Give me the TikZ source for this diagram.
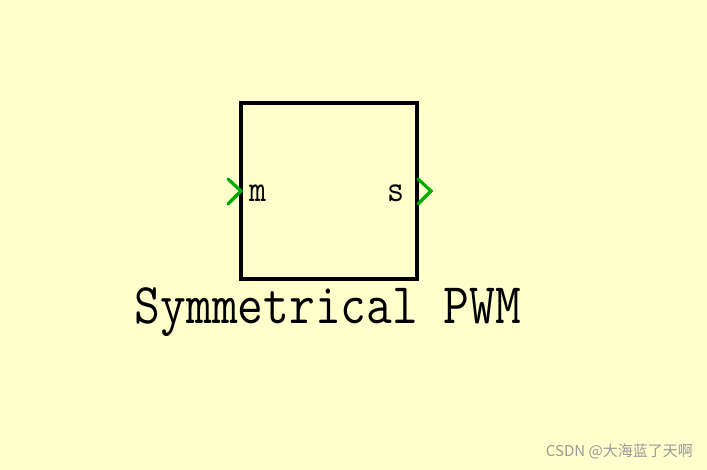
\documentclass[tikz,border=0pt]{standalone}
\usepackage{fontspec}
\newfontfamily\cjk{Noto Sans CJK SC}
\definecolor{bg}{RGB}{255,255,204}
\definecolor{pgreen}{RGB}{0,170,0}
\tikzset{port/.style={draw=pgreen,line width=3.2pt,line cap=round,line join=miter}}
\begin{document}
\begin{tikzpicture}[x=1pt,y=-1pt]
\fill[bg] (0,0) rectangle (707,470);
\useasboundingbox (0,0) rectangle (707,470);
\node[draw,line width=3.2pt,minimum width=176pt,minimum height=176pt,inner sep=0] (blk) at (329,191) {};
\draw[port] (228,179) -- (241,191) -- (228,204);
\draw[port] (418,179) -- (431,191) -- (418,204);
\node[font=\ttfamily\fontsize{33}{33}\selectfont,anchor=west,inner sep=0,yscale=1.15] (m) at (249,193) {m};
\node[font=\ttfamily\fontsize{33}{33}\selectfont,anchor=east,inner sep=0,yscale=1.15] (s) at (405,193) {s};
\node[font=\ttfamily\fontsize{50}{50}\selectfont,inner sep=0,yscale=1.15] (lbl) at (328,312) {Symmetrical PWM};
\node[font=\cjk\fontsize{15}{15}\selectfont,text=gray!80,anchor=east,inner sep=0] (wm) at (693,451) {CSDN @大海蓝了天啊};
\end{tikzpicture}
\end{document}
